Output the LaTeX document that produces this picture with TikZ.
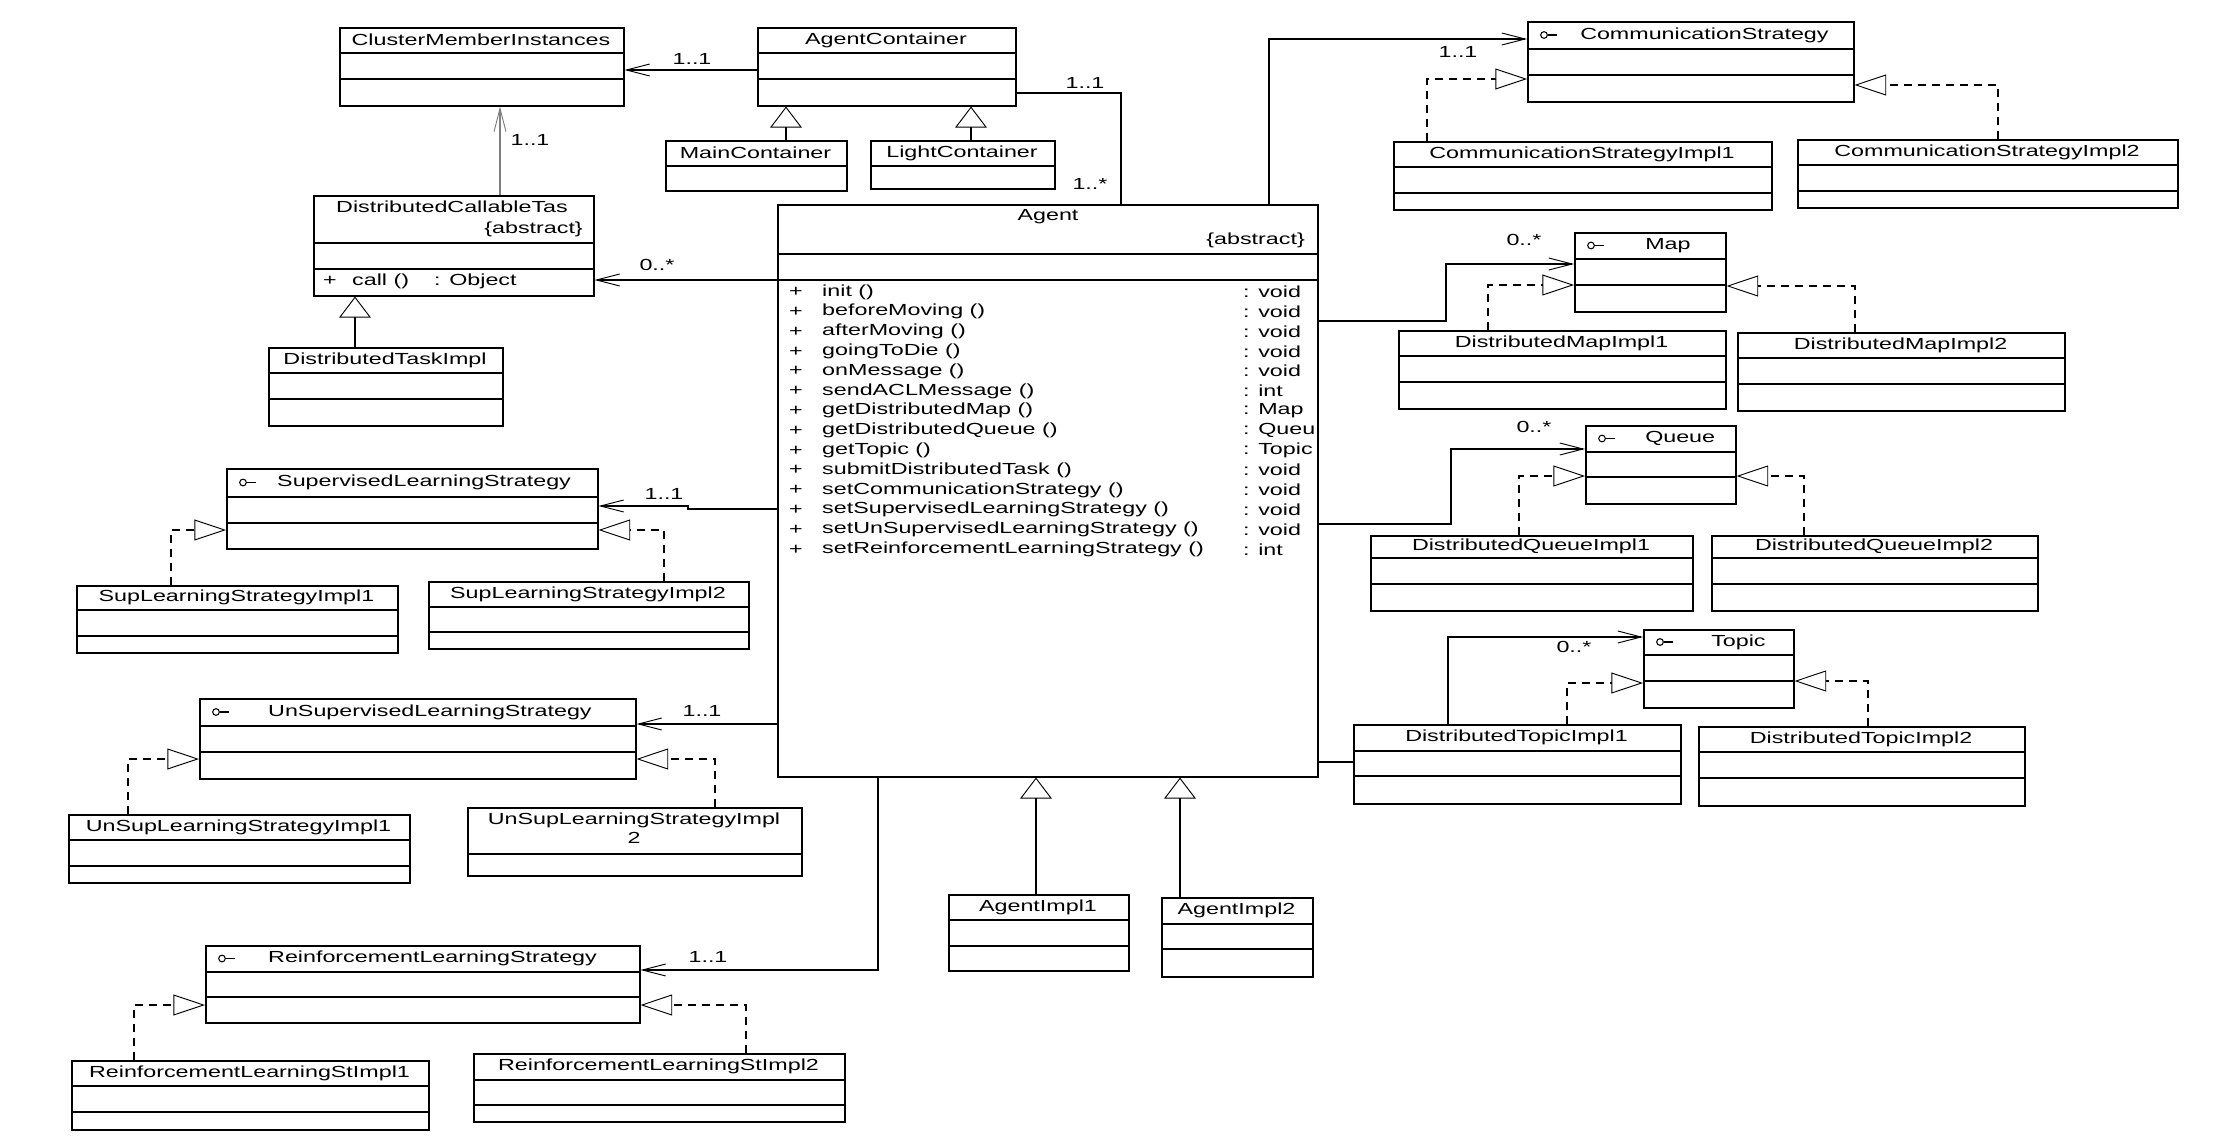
\documentclass[tikz,border=0pt]{standalone}
\usepackage{fontspec}
\setmainfont{Liberation Sans}[FakeStretch=1.45]
\usetikzlibrary{arrows.meta}
\tikzset{
  every node/.style={font=\fontsize{13.7pt}{16pt}\selectfont, inner sep=0pt},
  box/.style={draw, line width=1.3pt, anchor=north west, inner sep=0pt},
  conn/.style={line width=1.1pt},
  assoc/.style={conn, -{Straight Barb[length=7mm, width=3.6mm, line width=0.8pt]}},
  inh/.style={conn, -{Triangle[open, length=6.3mm, width=9.5mm, line width=0.8pt]}},
  real/.style={conn, dash pattern=on 2.4mm off 1.8mm, -{Triangle[open, length=9.5mm, width=6.3mm, line width=0.8pt, sep=0pt]}},
}
\newcommand\cls[7]{% name,x1,y1,x2,y2,divs,title
  \node[box, minimum width={(#4-#2)*0.3mm}, minimum height={(#5-#3)*0.3mm}] (#1) at (#2,#3) {};
  \foreach \d in {#6}{\draw[line width=1.3pt] (#2,\d) -- (#4,\d);}
  \def\tmp{#7}\ifx\tmp\empty\else
  \foreach \d [count=\k] in {#6}{\ifnum\k=1 \node at ({(#2+#4)/2},{(#3+\d)/2}) {#7};\fi}\fi}
\newcommand\icls[8]{% name,x1,y1,x2,y2,divs,textx,text
  \cls{#1}{#2}{#3}{#4}{#5}{#6}{}
  \foreach \d [count=\k] in {#6}{\ifnum\k=1
    \draw[line width=0.9pt] ({#2+17},{(#3+\d)/2}) circle[radius=1mm];
    \draw[line width=0.9pt] ({#2+20.5},{(#3+\d)/2}) -- ({#2+30},{(#3+\d)/2});
    \node[anchor=west] at (#7,{(#3+\d)/2}) {#8};\fi}}
\begin{document}
\begin{tikzpicture}[x=0.3mm, y=-0.3mm]
\useasboundingbox (0,0) rectangle (2214,1137);
% classes
\cls{cmi}{339}{27}{623}{105}{53,79}{ClusterMemberInstances}
\cls{ac}{757}{27}{1015}{105}{53,79}{AgentContainer}
\cls{mc}{665}{140}{846}{190}{166}{MainContainer}
\cls{lc}{870}{140}{1054}{188}{166}{LightContainer}
\cls{dct}{313}{195}{593}{295}{243,269}{}
\node at (452,207) {DistributedCallableTas};
\node[anchor=east] at (583,229) {\{abstract\}};
\node at (330,281) {+};
\node[anchor=west] at (352,281) {call ()};
\node[anchor=west] at (434,281) {: Object};
\cls{dti}{268}{347}{502}{425}{373,399}{DistributedTaskImpl}
\cls{agent}{777}{204}{1317}{776}{254,280}{}
\node at (1048,217) {Agent};
\node[anchor=east] at (1305,240) {\{abstract\}};
\foreach \n/\t [count=\i] in {init ()/void, beforeMoving ()/void, afterMoving ()/void, goingToDie ()/void, onMessage ()/void, sendACLMessage ()/int, getDistributedMap ()/Map, getDistributedQueue ()/Queu, getTopic ()/Topic, submitDistributedTask ()/void, setCommunicationStrategy ()/void, setSupervisedLearningStrategy ()/void, setUnSupervisedLearningStrategy ()/void, setReinforcementLearningStrategy ()/int}{
  \node at (796,{292+(\i-1)*19.8}) {+};
  \node[anchor=west] at (822,{292+(\i-1)*19.8}) {\n};
  \node[anchor=west] at (1243,{292+(\i-1)*19.8}) {: \t};
}
\icls{cs}{1527}{21}{1853}{101}{49,75}{1580}{CommunicationStrategy}
\cls{csi1}{1393}{141}{1771}{209}{167,193}{CommunicationStrategyImpl1}
\cls{csi2}{1797}{139}{2177}{207}{165,191}{CommunicationStrategyImpl2}
\icls{map}{1574}{232}{1725}{311}{259,285}{1645}{Map}
\cls{dmi1}{1398}{330}{1725}{408}{356,382}{DistributedMapImpl1}
\cls{dmi2}{1737}{332}{2064}{410}{358,384}{DistributedMapImpl2}
\icls{queue}{1585}{425}{1735}{503}{452,477}{1645}{Queue}
\cls{dqi1}{1370}{535}{1692}{610}{558,584}{DistributedQueueImpl1}
\cls{dqi2}{1711}{535}{2037}{610}{558,584}{DistributedQueueImpl2}
\icls{topic}{1643}{629}{1793}{707}{655,681}{1711}{Topic}
\cls{dtpi1}{1353}{724}{1680}{803}{751,776}{DistributedTopicImpl1}
\cls{dtpi2}{1698}{726}{2024}{805}{752,778}{DistributedTopicImpl2}
\cls{ai1}{948}{894}{1128}{970}{920,946}{AgentImpl1}
\cls{ai2}{1161}{897}{1312}{976}{924,949}{AgentImpl2}
\icls{sls}{226}{468}{597}{548}{497,523}{277}{SupervisedLearningStrategy}
\cls{supi1}{76}{585}{397}{652}{610,636}{SupLearningStrategyImpl1}
\cls{supi2}{428}{581}{748}{648}{607,632}{SupLearningStrategyImpl2}
\icls{uls}{199}{698}{635}{778}{726,752}{268}{UnSupervisedLearningStrategy}
\cls{usi1}{68}{814}{409}{882}{840,866}{UnSupLearningStrategyImpl1}
\cls{usi2}{467}{807}{801}{875}{854}{}
\node at (634,820) {UnSupLearningStrategyImpl};
\node at (634,838) {2};
\icls{rls}{205}{945}{639}{1022}{972,997}{268}{ReinforcementLearningStrategy}
\cls{rli1}{71}{1060}{428}{1129}{1086,1112}{ReinforcementLearningStImpl1}
\cls{rli2}{473}{1053}{844}{1121}{1080,1105}{ReinforcementLearningStImpl2}
% associations
\draw[assoc] (ac.west |- 0,70) -- (cmi.east |- 0,70);
\node at (692,59) {1..1};
\draw[assoc, gray] (dct.north -| 500,0) -- (cmi.south -| 500,0);
\node at (530,140) {1..1};
\draw[conn] (ac.east |- 0,93) -- (1121,93) -- (agent.north -| 1121,0);
\node at (1085,83) {1..1};
\node at (1090,184) {1..*};
\draw[assoc] (agent.west |- 0,280) -- (dct.east |- 0,280);
\node at (657,265) {0..*};
\draw[assoc] (agent.north -| 1269,0) -- (1269,39) -- (cs.west |- 0,39);
\node at (1458,52) {1..1};
\draw[assoc] (agent.east |- 0,321) -- (1446,321) -- (1446,264) -- (map.west |- 0,264);
\node at (1524,240) {0..*};
\draw[assoc] (agent.east |- 0,524) -- (1451,524) -- (1451,449) -- (queue.west |- 0,449);
\node at (1534,427) {0..*};
\draw[assoc] (dtpi1.north -| 1448,0) -- (1448,637) -- (topic.west |- 0,637);
\node at (1574,647) {0..*};
\draw[conn] (agent.east |- 0,762) -- (dtpi1.west |- 0,762);
\draw[assoc] (agent.west |- 0,509) -- (688,509) -- (688,506) -- (sls.east |- 0,506);
\node at (664,494) {1..1};
\draw[assoc] (agent.west |- 0,724) -- (uls.east |- 0,724);
\node at (702,711) {1..1};
\draw[assoc] (agent.south -| 878,0) -- (878,970) -- (rls.east |- 0,970);
\node at (708,957) {1..1};
% inheritance
\draw[inh] (mc.north -| 786,0) -- (ac.south -| 786,0);
\draw[inh] (lc.north -| 971,0) -- (ac.south -| 971,0);
\draw[inh] (dti.north -| 355,0) -- (dct.south -| 355,0);
\draw[inh] (ai1.north -| 1036,0) -- (agent.south -| 1036,0);
\draw[inh] (ai2.north -| 1180,0) -- (agent.south -| 1180,0);
% realizations
\draw[real] (csi1.north -| 1427,0) -- (1427,79) -- (cs.west |- 0,79);
\draw[real] (csi2.north -| 1998,0) -- (1998,85) -- (cs.east |- 0,85);
\draw[real] (dmi1.north -| 1488,0) -- (1488,285) -- (map.west |- 0,285);
\draw[real] (dmi2.north -| 1855,0) -- (1855,286) -- (map.east |- 0,286);
\draw[real] (dqi1.north -| 1519,0) -- (1519,476) -- (queue.west |- 0,476);
\draw[real] (dqi2.north -| 1804,0) -- (1804,476) -- (queue.east |- 0,476);
\draw[real] (dtpi1.north -| 1567,0) -- (1567,683) -- (topic.west |- 0,683);
\draw[real] (dtpi2.north -| 1868,0) -- (1868,681) -- (topic.east |- 0,681);
\draw[real] (supi1.north -| 171,0) -- (171,530) -- (sls.west |- 0,530);
\draw[real] (supi2.north -| 664,0) -- (664,530) -- (sls.east |- 0,530);
\draw[real] (usi1.north -| 128,0) -- (128,759) -- (uls.west |- 0,759);
\draw[real] (usi2.north -| 715,0) -- (715,759) -- (uls.east |- 0,759);
\draw[real] (rli1.north -| 134,0) -- (134,1005) -- (rls.west |- 0,1005);
\draw[real] (rli2.north -| 746,0) -- (746,1005) -- (rls.east |- 0,1005);
\end{tikzpicture}
\end{document}
